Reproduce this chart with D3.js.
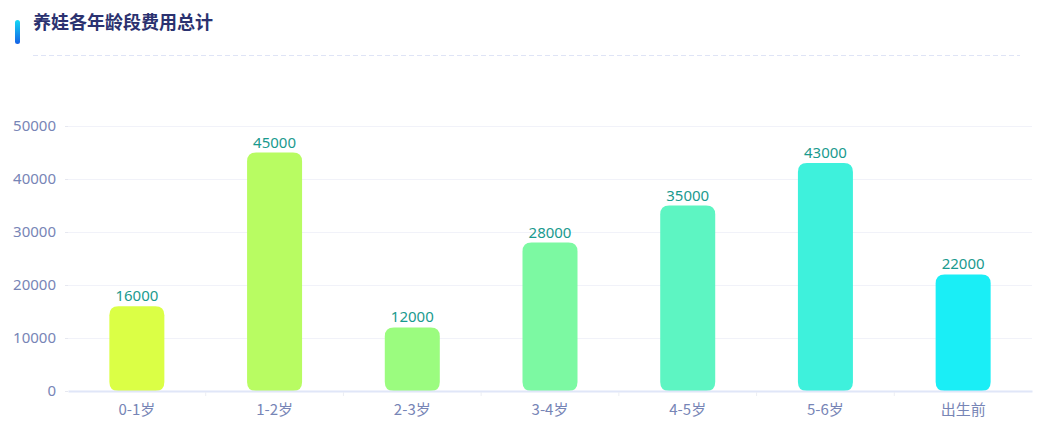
<!DOCTYPE html>
<html>
<head>
<meta charset="utf-8">
<script src="https://cdn.jsdelivr.net/npm/d3@7"></script>
<style>
  body { margin: 0; background: #fff; font-family: "Noto Sans CJK SC", "Microsoft YaHei", sans-serif; }
</style>
</head>
<body>
<svg id="chart"></svg>
<script>
const categories = ["0-1岁", "1-2岁", "2-3岁", "3-4岁", "4-5岁", "5-6岁", "出生前"];
const values = [16000, 45000, 12000, 28000, 35000, 43000, 22000];
const barColors = ["#dbff45", "#b8fc62", "#9bfc7f", "#7cf9a2", "#5df5c2", "#3ef1dc", "#1aeef6"];
const yTicks = [0, 10000, 20000, 30000, 40000, 50000];
const title = "养娃各年龄段费用总计";

const W = 1039, H = 433;
const margin = { top: 126, right: 7, bottom: 42, left: 68 };
const width = W - margin.left - margin.right;
const height = H - margin.top - margin.bottom;

const svg = d3.select("#chart").attr("width", W).attr("height", H);

// title block
const defs = svg.append("defs");
const grad = defs.append("linearGradient").attr("id", "titleGrad")
  .attr("x1", 0).attr("y1", 0).attr("x2", 0).attr("y2", 1);
grad.append("stop").attr("offset", "0%").attr("stop-color", "#14d8f5");
grad.append("stop").attr("offset", "100%").attr("stop-color", "#1561e6");

svg.append("rect")
  .attr("x", 15).attr("y", 20).attr("width", 5).attr("height", 24)
  .attr("rx", 2.5).attr("fill", "url(#titleGrad)");

svg.append("text")
  .attr("x", 33).attr("y", 29)
  .attr("fill", "#2b3270")
  .attr("font-size", 18).attr("font-weight", "bold")
  .text(title);

svg.append("line")
  .attr("x1", 33).attr("x2", 1020).attr("y1", 55.5).attr("y2", 55.5)
  .attr("stroke", "#dfe4f6").attr("stroke-width", 1)
  .attr("stroke-dasharray", "5,3");

const g = svg.append("g").attr("transform", `translate(${margin.left},${margin.top})`);

const x = d3.scaleBand().domain(categories).range([0, width]).paddingInner(0).paddingOuter(0);
const y = d3.scaleLinear().domain([0, 50000]).range([height, 0]);

// grid
g.selectAll(".grid").data(yTicks.slice(1)).enter().append("line")
  .attr("x1", 0).attr("x2", width)
  .attr("y1", d => Math.round(y(d)) + 0.5).attr("y2", d => Math.round(y(d)) + 0.5)
  .attr("stroke", "#f1f2f9");

// y axis
const yAxis = g.append("g")
  .call(d3.axisLeft(y).tickValues(yTicks).tickSize(3).tickPadding(9).tickFormat(d3.format("d")));
yAxis.select(".domain").remove();
yAxis.selectAll("line").attr("stroke", "#e6e8f0");
yAxis.selectAll("text").attr("fill", "#7785b6").attr("font-size", 15)
  .attr("font-family", "'Noto Sans', sans-serif");

// bars
const bw = 55;
const r = 9;
function roundedBar(x0, y0, w, h, rad) {
  rad = Math.min(rad, h / 2);
  return `M${x0},${y0 + rad}
    Q${x0},${y0} ${x0 + rad},${y0}
    L${x0 + w - rad},${y0}
    Q${x0 + w},${y0} ${x0 + w},${y0 + rad}
    L${x0 + w},${y0 + h - rad}
    Q${x0 + w},${y0 + h} ${x0 + w - rad},${y0 + h}
    L${x0 + rad},${y0 + h}
    Q${x0},${y0 + h} ${x0},${y0 + h - rad}Z`;
}

g.selectAll(".bar").data(values).enter().append("path")
  .attr("d", (d, i) => {
    const cx = x(categories[i]) + x.bandwidth() / 2;
    return roundedBar(cx - bw / 2, y(d), bw, height - y(d), r);
  })
  .attr("fill", (d, i) => barColors[i]);

g.selectAll(".val").data(values).enter().append("text")
  .attr("x", (d, i) => x(categories[i]) + x.bandwidth() / 2)
  .attr("y", d => y(d) - 5)
  .attr("text-anchor", "middle")
  .attr("fill", "#199a8e")
  .attr("font-size", 15)
  .attr("font-family", "'Noto Sans', sans-serif")
  .text(d => d);

// x axis
const xAxis = g.append("g").attr("transform", `translate(0,${height})`)
  .call(d3.axisBottom(x).tickSize(0).tickPadding(13));
xAxis.select(".domain").attr("stroke", "#e0e6f8").attr("stroke-width", 2);
xAxis.selectAll("text").attr("fill", "#7785b6").attr("font-size", 15)
  .attr("font-family", "'Noto Sans CJK SC', sans-serif");
g.append("g").attr("transform", `translate(0,${height + 1})`)
  .selectAll("line").data(categories.slice(1)).enter().append("line")
  .attr("x1", d => x(d)).attr("x2", d => x(d))
  .attr("y1", 0).attr("y2", 4)
  .attr("stroke", "#eceef4");
</script>
</body>
</html>
